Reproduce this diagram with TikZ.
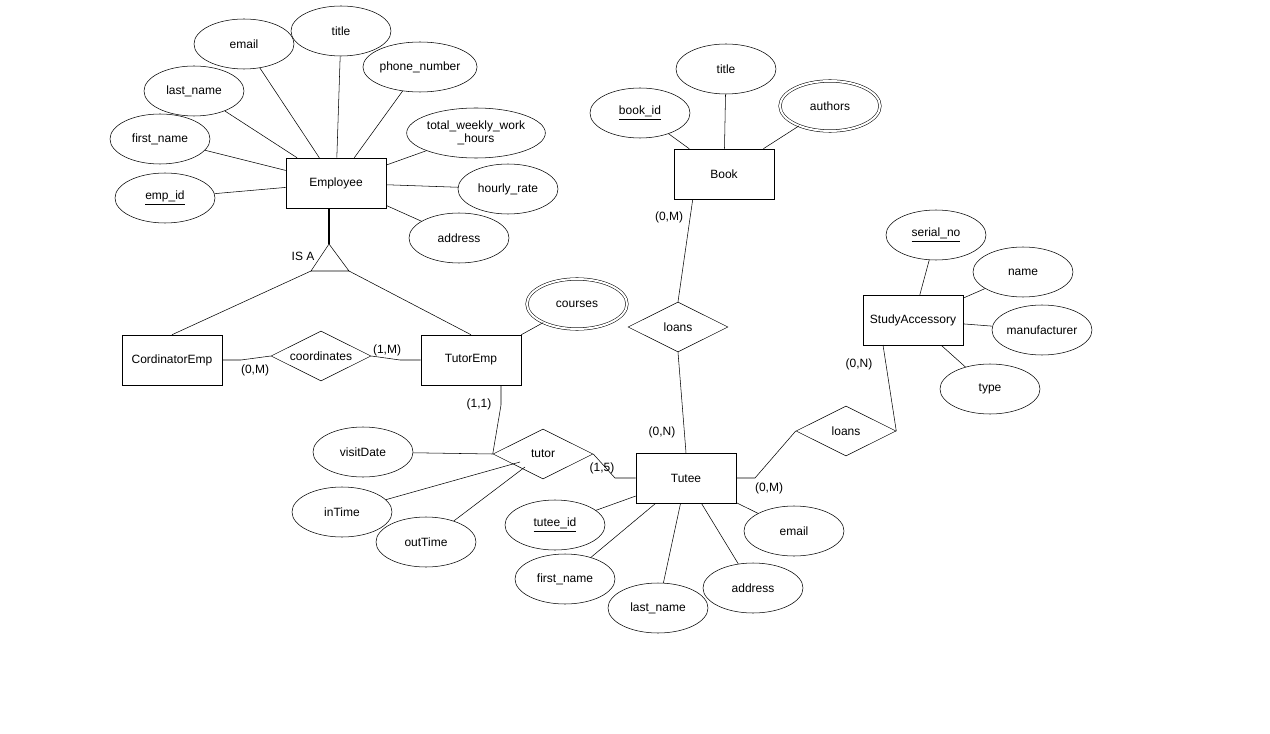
\documentclass[tikz,border=0pt]{standalone}
\usepackage{fontspec}
\setmainfont{Liberation Sans}
\usetikzlibrary{shapes.geometric}
\begin{document}
\begin{tikzpicture}[x=0.75pt,y=-0.75pt,font=\fontsize{9}{10}\selectfont,
  ent/.style={draw,minimum width=75pt,minimum height=37.5pt,inner sep=0pt},
  att/.style={draw,ellipse,minimum width=75pt,minimum height=37.5pt,inner sep=0pt,fill=white},
  matt/.style={att,double,double distance=1.5pt},
  rel/.style={draw,diamond,aspect=2,minimum width=75pt,minimum height=37.5pt,inner sep=0pt,fill=white},
  lbl/.style={inner sep=0pt}]
\fill[white] (0,0) rectangle (1270,734);
\useasboundingbox (0,0) rectangle (1270,734);
% entities
\node[ent] (emp) at (336,183) {Employee};
\node[ent] (cord) at (172,360) {CordinatorEmp};
\node[ent] (tut) at (471,360) {TutorEmp};
\node[ent] (tutee) at (686,478) {Tutee};
\node[ent] (book) at (724,174) {Book};
\node[ent] (sa) at (913,320) {StudyAccessory};
% employee attrs
\node[att] (eid) at (165,198) {\underline{emp\_id}};
\node[att] (efn) at (160,139) {first\_name};
\node[att] (eln) at (194,91) {last\_name};
\node[att] (eem) at (244,44) {email};
\node[att] (eti) at (341,31) {title};
\node[att] (eph) at (420,67) {phone\_number};
\node[att,align=center] (etw) at (476,133) {total\_weekly\_work\\\_hours};
\node[att] (ehr) at (508,189) {hourly\_rate};
\node[att] (ead) at (459,238) {address};
\foreach \a in {eid,efn,eln,eem,eti,eph,etw,ehr,ead} \draw (\a) -- (emp);
% ISA
\coordinate (apex) at (329,244);
\coordinate (bl) at (311,271);
\coordinate (br) at (349,271);
\draw (apex) -- (bl) -- (br) -- cycle;
\draw[line width=1.5pt] (emp.south -| apex) -- (apex);
\node[lbl] (isa) at (303,256) {IS A};
\draw (bl) -- (cord.north);
\draw (br) -- (tut.north);
% coordinates
\node[rel] (coo) at (321,356) {coordinates};
\draw (cord.east) -- (241,360) -- (coo.west);
\draw (coo.east) -- (400,360) -- (tut.west);
\node[lbl] (l1) at (255,370) {(0,M)};
\node[lbl] (l2) at (387,350) {(1,M)};
\node[matt] (cou) at (577,304) {courses};
\draw (cou) -- (tut.north east);
% tutor
\node[rel] (tr) at (543,454) {tutor};
\coordinate (t1) at (501,405);
\draw (tut.south -| t1) -- (t1) -- (tr.west);
\node[lbl] (l3) at (479,404) {(1,1)};
\draw (tr.east) -- (615,478) -- (tutee.west);
\node[lbl] (l4) at (602,468) {(1,5)};
\node[att] (vd) at (363,452) {visitDate};
\node[att] (it) at (342,512) {inTime};
\node[att] (ot) at (426,542) {outTime};
\draw (vd) -- (tr.west);
\draw (it) -- (520,462);
\draw (ot) -- (525,467);
% tutee attrs
\node[att] (tid) at (555,525) {\underline{tutee\_id}};
\node[att] (tfn) at (565,579) {first\_name};
\node[att] (tln) at (658,608) {last\_name};
\node[att] (tad) at (753,588) {address};
\node[att] (tem) at (794,531) {email};
\foreach \a in {tid,tfn,tln,tad,tem} \draw (\a) -- (tutee);
% book loans
\node[rel] (lo1) at (678,327) {loans};
\draw (book.south west) ++(19,0) coordinate (bb) -- (lo1.north);
\draw (lo1.south) -- (tutee.north);
\node[lbl] (l5) at (669,217) {(0,M)};
\node[lbl] (l6) at (662,432) {(0,N)};
\node[att] (bid) at (640,113) {\underline{book\_id}};
\node[att] (bti) at (726,69) {title};
\node[matt] (bau) at (830,106) {authors};
\foreach \a in {bid,bti,bau} \draw (\a) -- (book);
% accessory loans
\node[rel] (lo2) at (846,431) {loans};
\draw (tutee.east) -- (755,478) -- (lo2.west);
\draw (lo2.east) -- (883,345);
\node[lbl] (l7) at (769,488) {(0,M)};
\node[lbl] (l8) at (859,364) {(0,N)};
\node[att] (ssn) at (936,235) {\underline{serial\_no}};
\node[att] (snm) at (1023,272) {name};
\node[att] (smf) at (1042,330) {manufacturer};
\node[att] (sty) at (990,389) {type};
\foreach \a in {ssn,snm,smf,sty} \draw (\a) -- (sa);
\end{tikzpicture}
\end{document}
